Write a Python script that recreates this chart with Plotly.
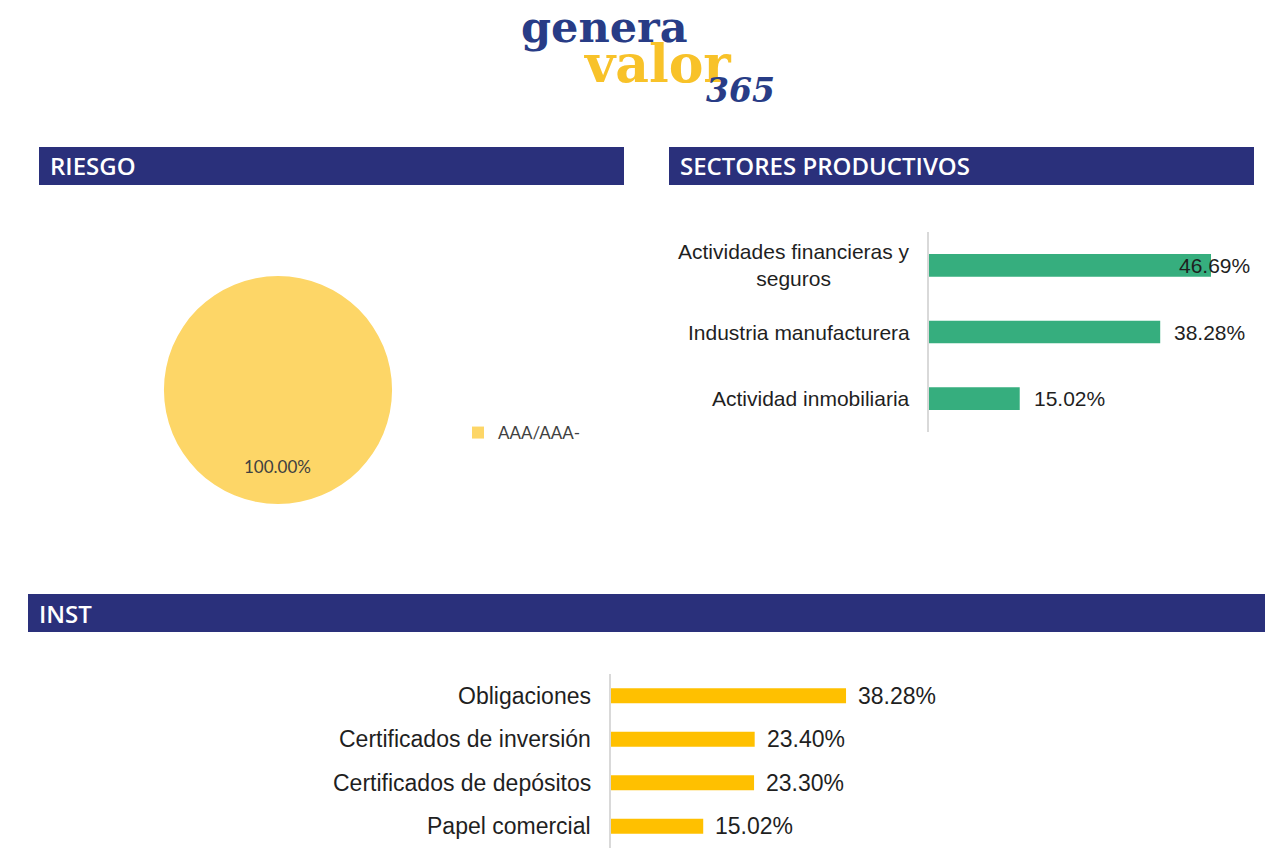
import plotly.graph_objects as go

W, H = 1272, 862

# ---------------- data ----------------
riesgo_labels = ["AAA/AAA-"]
riesgo_values = [100.00]

sector_names = ["Actividades financieras y<br>seguros", "Industria manufacturera", "Actividad inmobiliaria"]
sector_values = [46.69, 38.28, 15.02]

inst_names = ["Obligaciones", "Certificados de inversión", "Certificados de depósitos", "Papel comercial"]
inst_values = [38.28, 23.40, 23.30, 15.02]

headers = ["RIESGO", "SECTORES PRODUCTIVOS", "INST"]

# ---------------- style ----------------
NAVY = "#2A307B"
PIE_COL = "#FDD667"
GREEN = "#36AE7E"
GOLD = "#FFC000"
TXT = "#1F1F1F"


def px(x):
    return x / W


def py(y):
    return 1 - y / H


fig = go.Figure()

# Pie
fig.add_trace(go.Pie(
    labels=riesgo_labels, values=riesgo_values,
    marker=dict(colors=[PIE_COL], line=dict(width=0)),
    textinfo="none", sort=False, hoverinfo="label+percent",
    domain=dict(x=[px(164), px(392)], y=[py(504), py(276)]),
    showlegend=True,
))

# Sector bars
fig.add_trace(go.Bar(
    x=sector_values, y=sector_names, orientation="h",
    marker=dict(color=GREEN, line=dict(width=0)), width=0.34,
    xaxis="x", yaxis="y", showlegend=False,
))

# INST bars
fig.add_trace(go.Bar(
    x=inst_values, y=inst_names, orientation="h",
    marker=dict(color=GOLD, line=dict(width=0)), width=0.345,
    xaxis="x2", yaxis="y2", showlegend=False,
))

annotations = []
shapes = []

# Header bars
header_boxes = [(39, 147, 624, 185), (669, 147, 1254, 185), (28, 594, 1265, 632)]
for text, (x0, y0, x1, y1) in zip(headers, header_boxes):
    shapes.append(dict(type="rect", xref="paper", yref="paper",
                       x0=px(x0), x1=px(x1), y0=py(y1), y1=py(y0),
                       fillcolor=NAVY, line=dict(width=0), layer="below"))
    annotations.append(dict(text=text, xref="paper", yref="paper",
                            x=px(x0 + 9), y=py((y0 + y1) / 2), xanchor="left", yanchor="middle",
                            showarrow=False,
                            font=dict(family="Open Sans", size=24, color="white", weight=600)))

# Logo
annotations += [
    dict(text="genera", xref="paper", yref="paper", x=px(604), y=py(27), xanchor="center", yanchor="middle",
         showarrow=False, font=dict(family="DejaVu Serif", size=43, color="#283C86", weight="bold")),
    dict(text="valor", xref="paper", yref="paper", x=px(657), y=py(63), xanchor="center", yanchor="middle",
         showarrow=False, font=dict(family="DejaVu Serif", size=52, color="#F8C229", weight="bold")),
    dict(text="<i>365</i>", xref="paper", yref="paper", x=px(741), y=py(90), xanchor="center", yanchor="middle",
         showarrow=False, font=dict(family="DejaVu Serif", size=33, color="#283C86", weight="bold")),
]

# Pie value label
for v in riesgo_values:
    annotations.append(dict(text=f"{v:.2f}%", xref="paper", yref="paper", x=px(277), y=py(466),
                            xanchor="center", yanchor="middle", showarrow=False,
                            font=dict(family="Lato", size=17, color="#404040")))

# Sector category labels + value labels
sector_shift = [-34, 12, 12]
for name, v, sh in zip(sector_names, sector_values, sector_shift):
    annotations.append(dict(text=name, xref="x domain", yref="y", x=0, y=name, xanchor="right",
                            yanchor="middle", xshift=-17, align="center", showarrow=False,
                            font=dict(family="Liberation Sans", size=21, color=TXT)))
    annotations.append(dict(text=f"{v:.2f}%", xref="x", yref="y", x=v, y=name, xanchor="left",
                            yanchor="middle", xshift=sh, showarrow=False,
                            font=dict(family="Liberation Sans", size=21, color=TXT)))

# INST category labels + value labels
for name, v in zip(inst_names, inst_values):
    annotations.append(dict(text=name, xref="x2 domain", yref="y2", x=0, y=name, xanchor="right",
                            yanchor="middle", xshift=-18, showarrow=False,
                            font=dict(family="Liberation Sans", size=23, color=TXT)))
    annotations.append(dict(text=f"{v:.2f}%", xref="x2", yref="y2", x=v, y=name, xanchor="left",
                            yanchor="middle", xshift=10, showarrow=False,
                            font=dict(family="Liberation Sans", size=23, color=TXT)))

hidden_x = dict(showgrid=False, zeroline=False, showticklabels=False, showline=False, ticks="", fixedrange=True)

fig.update_layout(
    width=W, height=H,
    margin=dict(l=0, r=0, t=0, b=0),
    paper_bgcolor="white", plot_bgcolor="white",
    xaxis=dict(domain=[px(929), px(1231)], range=[0, 50], anchor="y", **hidden_x),
    yaxis=dict(domain=[py(432), py(232)], anchor="x", autorange="reversed", showgrid=False, zeroline=False,
               showticklabels=False, showline=True, linecolor="#D9D9D9", linewidth=1.5, ticks=""),
    xaxis2=dict(domain=[px(611), px(918)], range=[0, 50], anchor="y2", **hidden_x),
    yaxis2=dict(domain=[py(848), py(674)], anchor="x2", autorange="reversed", showgrid=False, zeroline=False,
                showticklabels=False, showline=True, linecolor="#D9D9D9", linewidth=1.5, ticks=""),
    legend=dict(x=px(458), y=py(433), xanchor="left", yanchor="middle", bgcolor="rgba(0,0,0,0)",
                font=dict(family="Lato", size=17, color="#404040"), itemwidth=30),
    shapes=shapes, annotations=annotations,
    bargap=0.66,
)

fig.write_html("out.html", config={"displayModeBar": False},
               post_script="document.body.style.margin='0';")
